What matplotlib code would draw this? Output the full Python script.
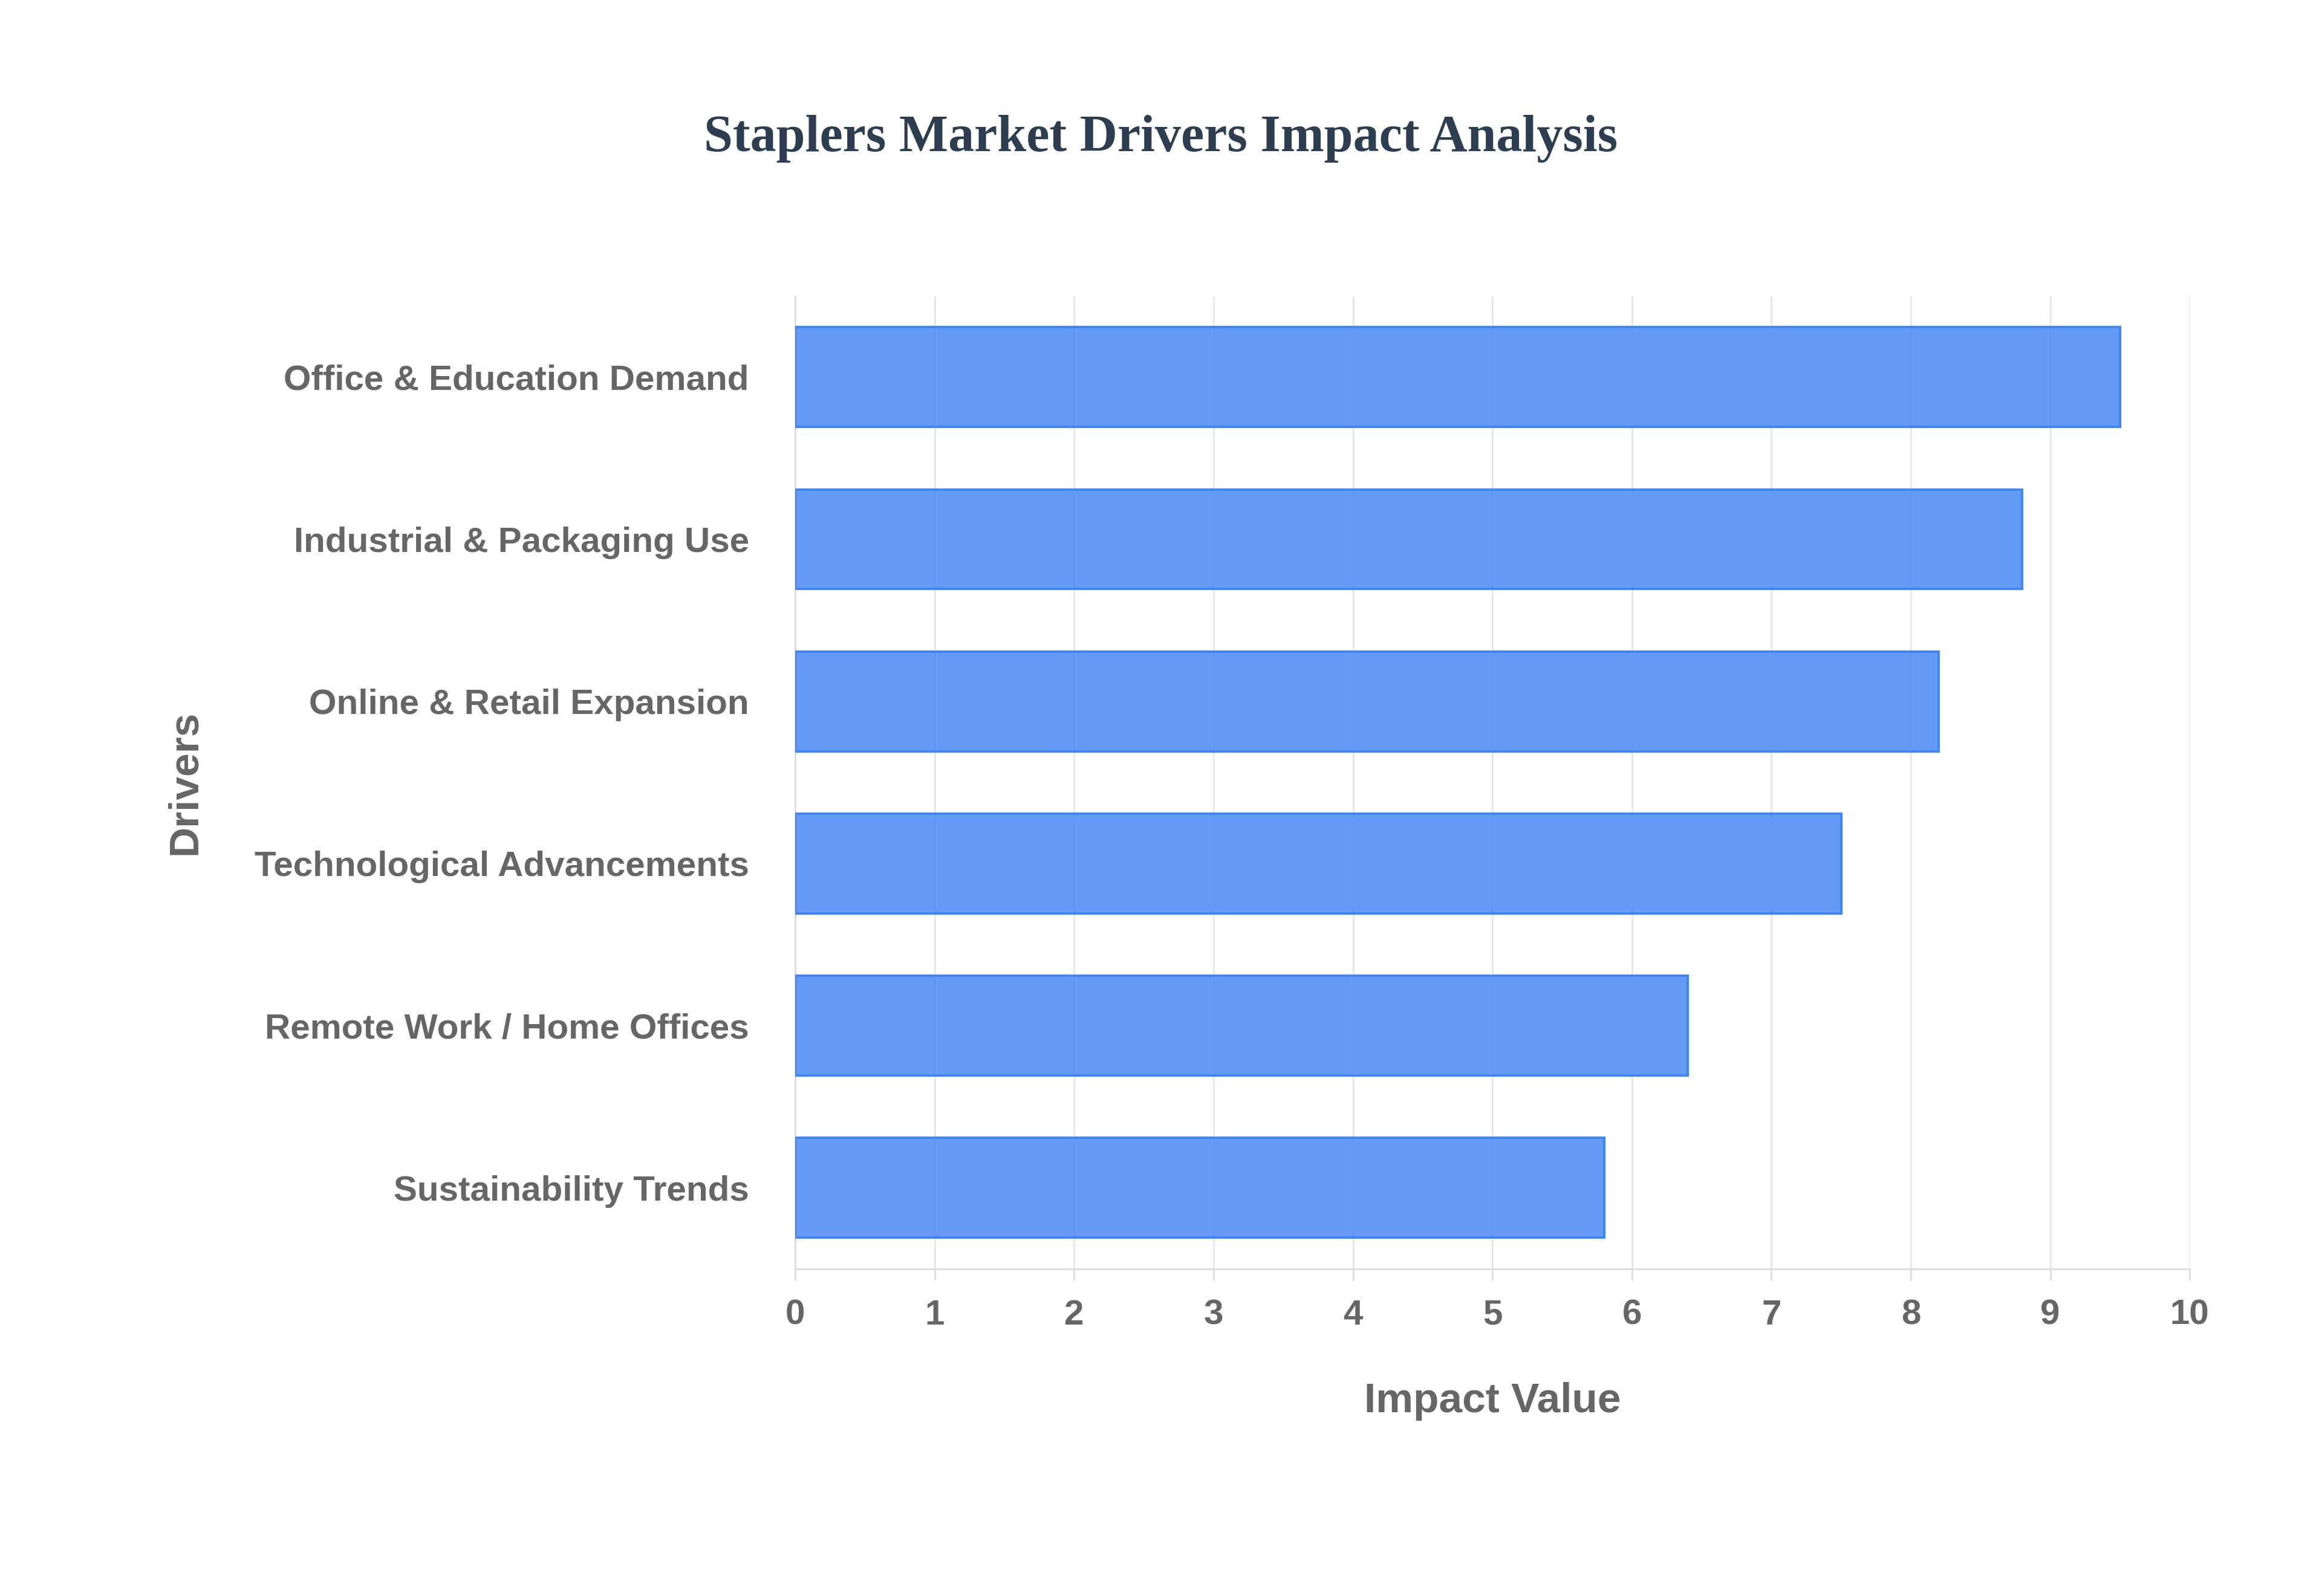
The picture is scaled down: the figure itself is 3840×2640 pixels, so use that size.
import numpy as np
import matplotlib.pyplot as plt

# data
drivers = ['Office & Education Demand', 'Industrial & Packaging Use',
           'Online & Retail Expansion', 'Technological Advancements',
           'Remote Work / Home Offices', 'Sustainability Trends']
impact = [9.5, 8.8, 8.2, 7.5, 6.4, 5.8]
xticks = list(range(0, 11))

plt.rcParams['font.family'] = ['Liberation Sans', 'DejaVu Sans']

fig = plt.figure(figsize=(38.4, 26.4), dpi=100)
ax = fig.add_axes([0.3425, 0.205, 0.6005, 0.6095])

y = np.arange(len(drivers))
ax.barh(y, impact, height=0.615, color=(66/255, 133/255, 244/255, 0.82),
        edgecolor='#4285f4', linewidth=3, zorder=3)
ax.set_ylim(len(drivers) - 0.5, -0.5)
ax.set_xlim(0, 10)
ax.set_yticks(y)
ax.set_yticklabels(drivers, fontsize=42, fontweight='bold', color='#666666')
ax.set_xticks(xticks)
ax.set_xticklabels([str(t) for t in xticks], fontsize=42, fontweight='bold', color='#666666')
ax.tick_params(axis='y', length=0, pad=55)
ax.tick_params(axis='x', length=14, width=2, color='#dddddd', pad=22)
ax.grid(axis='x', color='#e6e6e6', linewidth=2, zorder=0)
for s in ['top', 'right']:
    ax.spines[s].set_visible(False)
ax.spines['left'].set_color('#dddddd')
ax.spines['left'].set_linewidth(2)
ax.spines['bottom'].set_color('#dddddd')
ax.spines['bottom'].set_linewidth(2)

ax.set_xlabel('Impact Value', fontsize=50, fontweight='bold', color='#666666', labelpad=60)
ax.set_ylabel('Drivers', fontsize=50, fontweight='bold', color='#666666', labelpad=60)

fig.text(0.5, 0.913, 'Staplers Market Drivers Impact Analysis', ha='center', va='center',
         fontsize=62, fontweight='bold', color='#2c3e50', family=['Liberation Serif', 'DejaVu Serif'])

fig.savefig('out.png', dpi=100, facecolor='white')
